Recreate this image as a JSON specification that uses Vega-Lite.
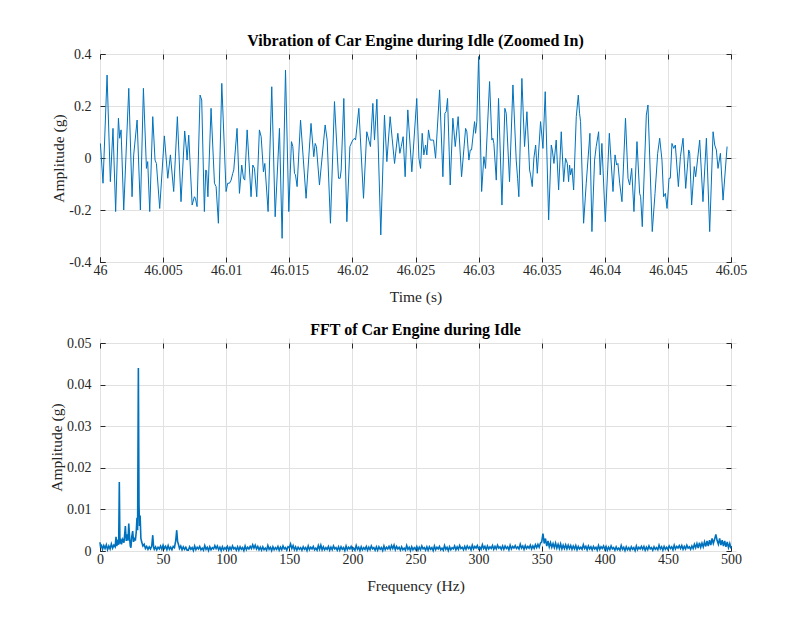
{
  "$schema": "https://vega.github.io/schema/vega-lite/v6.json",
  "background": "white",
  "padding": {"left": 49, "top": 32, "right": 10, "bottom": 10},
  "bounds": "flush",
  "spacing": 81,
  "config": {
    "font": "Liberation Serif",
    "view": {"stroke": "#262626", "strokeWidth": 1},
    "axis": {
      "labelFont": "Liberation Serif",
      "labelFontSize": 14,
      "labelColor": "#262626",
      "titleFont": "Liberation Serif",
      "titleFontSize": 15.5,
      "titleFontWeight": "normal",
      "titleColor": "#262626",
      "gridColor": "#e1e1e1",
      "gridWidth": 1,
      "domain": false,
      "tickColor": "#262626",
      "tickSize": 5,
      "offset": -5,
      "labelFlush": false,
      "labelOverlap": false
    },
    "axisX": {"labelPadding": 1, "titlePadding": 12},
    "axisY": {"labelPadding": 9, "titlePadding": 2},
    "title": {"font": "Liberation Serif", "fontSize": 16, "fontWeight": "bold", "color": "#000000", "offset": -2, "anchor": "middle"}
  },
  "vconcat": [
    {
      "width": 631,
      "height": 208,
      "title": "Vibration of Car Engine during Idle (Zoomed In)",
      "data": {"values": [
        {"t":46.00003,"v":0.056},{"t":46.00024,"v":-0.097},{"t":46.00056,"v":0.319},{"t":46.00082,"v":-0.091},{"t":46.00103,"v":0.114},
        {"t":46.00124,"v":-0.206},{"t":46.00146,"v":0.153},{"t":46.00156,"v":0.076},{"t":46.00167,"v":0.108},{"t":46.00188,"v":-0.2},
        {"t":46.00228,"v":0.268},{"t":46.00254,"v":-0.149},{"t":46.00267,"v":0.012},{"t":46.00294,"v":0.146},{"t":46.0032,"v":-0.2},
        {"t":46.00344,"v":0.268},{"t":46.00368,"v":-0.04},{"t":46.00378,"v":-0.014},{"t":46.00394,"v":-0.206},{"t":46.00418,"v":0.159},
        {"t":46.00436,"v":-0.008},{"t":46.00447,"v":-0.021},{"t":46.00473,"v":-0.194},{"t":46.0051,"v":0.085},{"t":46.00537,"v":-0.078},
        {"t":46.00558,"v":0.012},{"t":46.00584,"v":-0.129},{"t":46.00613,"v":0.159},{"t":46.00642,"v":-0.168},{"t":46.00671,"v":0.104},
        {"t":46.00685,"v":0.031},{"t":46.0069,"v":-0.008},{"t":46.00703,"v":0.088},{"t":46.0073,"v":-0.181},{"t":46.00748,"v":-0.149},
        {"t":46.00756,"v":-0.155},{"t":46.00769,"v":-0.187},{"t":46.00793,"v":0.242},{"t":46.00806,"v":0.223},{"t":46.00827,"v":-0.206},
        {"t":46.00838,"v":-0.046},{"t":46.00845,"v":-0.05},{"t":46.00855,"v":-0.149},{"t":46.0088,"v":0.191},{"t":46.00907,"v":-0.097},
        {"t":46.0092,"v":-0.11},{"t":46.00938,"v":-0.251},{"t":46.00965,"v":0.287},{"t":46.00999,"v":-0.129},{"t":46.01012,"v":-0.097},
        {"t":46.01026,"v":-0.097},{"t":46.01039,"v":-0.085},{"t":46.01052,"v":-0.059},{"t":46.0106,"v":-0.046},{"t":46.01086,"v":0.114},
        {"t":46.01105,"v":-0.136},{"t":46.01123,"v":-0.027},{"t":46.01137,"v":-0.078},{"t":46.01147,"v":-0.085},{"t":46.01166,"v":0.108},
        {"t":46.01197,"v":-0.149},{"t":46.01211,"v":-0.027},{"t":46.01224,"v":-0.04},{"t":46.01242,"v":-0.149},{"t":46.01263,"v":0.108},
        {"t":46.01277,"v":0.082},{"t":46.01295,"v":-0.053},{"t":46.01306,"v":-0.021},{"t":46.01332,"v":-0.206},{"t":46.01361,"v":0.274},
        {"t":46.01388,"v":-0.226},{"t":46.01422,"v":0.114},{"t":46.01443,"v":-0.309},{"t":46.0147,"v":0.338},{"t":46.01496,"v":-0.206},
        {"t":46.01517,"v":0.063},{"t":46.01528,"v":0.044},{"t":46.01541,"v":-0.059},{"t":46.01549,"v":-0.065},{"t":46.01562,"v":-0.11},
        {"t":46.01589,"v":0.146},{"t":46.01633,"v":-0.155},{"t":46.01672,"v":0.133},{"t":46.01694,"v":0.005},{"t":46.01705,"v":0.056},
        {"t":46.01715,"v":0.044},{"t":46.01739,"v":-0.104},{"t":46.01784,"v":0.127},{"t":46.018,"v":0.069},{"t":46.01826,"v":-0.251},
        {"t":46.01858,"v":0.217},{"t":46.0189,"v":-0.078},{"t":46.01903,"v":-0.078},{"t":46.01911,"v":-0.046},{"t":46.01932,"v":0.229},
        {"t":46.01956,"v":-0.245},{"t":46.0198,"v":0.044},{"t":46.02003,"v":0.069},{"t":46.02017,"v":0.076},{"t":46.02025,"v":0.069},
        {"t":46.02051,"v":0.191},{"t":46.02088,"v":-0.155},{"t":46.02114,"v":0.101},{"t":46.0213,"v":0.069},{"t":46.02143,"v":0.044},
        {"t":46.02162,"v":0.21},{"t":46.02175,"v":0.069},{"t":46.02194,"v":0.226},{"t":46.02225,"v":-0.296},{"t":46.02254,"v":0.165},
        {"t":46.02273,"v":-0.014},{"t":46.02299,"v":0.159},{"t":46.02315,"v":0.076},{"t":46.02334,"v":-0.021},{"t":46.0236,"v":0.095},
        {"t":46.02376,"v":0.018},{"t":46.02387,"v":0.044},{"t":46.02402,"v":0.082},{"t":46.02418,"v":-0.072},{"t":46.02439,"v":0.185},
        {"t":46.02471,"v":-0.053},{"t":46.0251,"v":0.229},{"t":46.02527,"v":-0.001},{"t":46.0254,"v":-0.04},{"t":46.02553,"v":0.095},
        {"t":46.02566,"v":0.012},{"t":46.0258,"v":0.05},{"t":46.0259,"v":0.012},{"t":46.02603,"v":0.108},{"t":46.02616,"v":0.069},
        {"t":46.02632,"v":0.069},{"t":46.02643,"v":0.069},{"t":46.02659,"v":-0.001},{"t":46.02691,"v":0.262},{"t":46.02717,"v":-0.072},
        {"t":46.02733,"v":0.172},{"t":46.02743,"v":0.178},{"t":46.02754,"v":0.229},{"t":46.02775,"v":-0.104},{"t":46.02796,"v":0.153},
        {"t":46.02815,"v":0.044},{"t":46.02838,"v":0.159},{"t":46.02865,"v":-0.072},{"t":46.02897,"v":0.114},{"t":46.02907,"v":0.101},
        {"t":46.02923,"v":-0.008},{"t":46.02934,"v":0.031},{"t":46.02944,"v":0.031},{"t":46.02968,"v":0.14},{"t":46.02976,"v":0.095},
        {"t":46.02986,"v":0.14},{"t":46.03,"v":0.39},{"t":46.03024,"v":-0.129},{"t":46.03042,"v":0.005},{"t":46.03055,"v":-0.04},
        {"t":46.03087,"v":0.294},{"t":46.03105,"v":0.069},{"t":46.03113,"v":0.076},{"t":46.03121,"v":0.056},{"t":46.0314,"v":-0.085},
        {"t":46.03158,"v":0.229},{"t":46.03185,"v":-0.181},{"t":46.03208,"v":0.191},{"t":46.03219,"v":0.172},{"t":46.03245,"v":-0.091},
        {"t":46.03272,"v":0.281},{"t":46.03298,"v":-0.008},{"t":46.03309,"v":-0.078},{"t":46.03319,"v":-0.149},{"t":46.03343,"v":0.306},
        {"t":46.03364,"v":0.044},{"t":46.03383,"v":0.178},{"t":46.03404,"v":-0.046},{"t":46.03412,"v":-0.065},{"t":46.03425,"v":-0.11},
        {"t":46.03438,"v":-0.001},{"t":46.03452,"v":0.05},{"t":46.03465,"v":-0.059},{"t":46.03491,"v":0.14},{"t":46.0351,"v":0.037},
        {"t":46.03528,"v":0.255},{"t":46.03555,"v":-0.238},{"t":46.03576,"v":0.05},{"t":46.03584,"v":0.031},{"t":46.03597,"v":-0.021},
        {"t":46.03615,"v":0.069},{"t":46.03634,"v":-0.123},{"t":46.03655,"v":0.101},{"t":46.03674,"v":-0.091},{"t":46.03689,"v":-0.001},
        {"t":46.03703,"v":-0.021},{"t":46.03713,"v":-0.091},{"t":46.03721,"v":-0.027},{"t":46.03729,"v":-0.065},{"t":46.0374,"v":-0.04},
        {"t":46.03753,"v":-0.123},{"t":46.03774,"v":0.159},{"t":46.0379,"v":0.242},{"t":46.038,"v":0.172},{"t":46.03808,"v":0.14},
        {"t":46.03832,"v":-0.251},{"t":46.03853,"v":-0.097},{"t":46.03882,"v":0.095},{"t":46.03898,"v":-0.283},{"t":46.03919,"v":-0.008},
        {"t":46.03932,"v":0.044},{"t":46.03951,"v":0.101},{"t":46.03964,"v":-0.065},{"t":46.03977,"v":0.056},{"t":46.04004,"v":-0.245},
        {"t":46.04036,"v":0.095},{"t":46.04065,"v":-0.129},{"t":46.04081,"v":0.012},{"t":46.04094,"v":-0.027},{"t":46.04104,"v":-0.021},
        {"t":46.04118,"v":-0.097},{"t":46.04136,"v":-0.168},{"t":46.04164,"v":0.153},{"t":46.04184,"v":-0.078},{"t":46.04197,"v":-0.104},
        {"t":46.04213,"v":-0.04},{"t":46.04231,"v":-0.206},{"t":46.04255,"v":0.063},{"t":46.04276,"v":-0.136},{"t":46.04284,"v":-0.149},
        {"t":46.04297,"v":-0.264},{"t":46.04329,"v":0.165},{"t":46.04342,"v":0.204},{"t":46.04376,"v":-0.283},{"t":46.04398,"v":-0.136},
        {"t":46.04419,"v":0.018},{"t":46.04435,"v":0.076},{"t":46.04453,"v":-0.008},{"t":46.04466,"v":-0.149},{"t":46.0448,"v":-0.136},
        {"t":46.04493,"v":-0.194},{"t":46.04509,"v":-0.078},{"t":46.04519,"v":-0.078},{"t":46.04532,"v":0.056},{"t":46.04546,"v":0.037},
        {"t":46.04559,"v":0.05},{"t":46.04583,"v":-0.11},{"t":46.04599,"v":0.005},{"t":46.0462,"v":0.076},{"t":46.04641,"v":-0.117},
        {"t":46.04665,"v":0.031},{"t":46.04673,"v":0.018},{"t":46.04688,"v":-0.181},{"t":46.04709,"v":-0.033},{"t":46.0472,"v":-0.072},
        {"t":46.04752,"v":0.069},{"t":46.04778,"v":-0.168},{"t":46.04805,"v":0.076},{"t":46.04831,"v":-0.283},{"t":46.04858,"v":0.101},
        {"t":46.04871,"v":0.05},{"t":46.04884,"v":0.031},{"t":46.04897,"v":-0.04},{"t":46.04916,"v":0.018},{"t":46.04937,"v":-0.162},
        {"t":46.04969,"v":0.044}
      ]},
      "layer": [
        {
          "mark": {"type": "line", "color": "#0072BD", "strokeWidth": 1},
          "encoding": {
            "x": {"field": "t", "type": "quantitative",
                  "scale": {"domain": [46, 46.05], "nice": false, "zero": false},
                  "axis": {"values": [46, 46.005, 46.01, 46.015, 46.02, 46.025, 46.03, 46.035, 46.04, 46.045, 46.05], "format": ".6~g", "title": "Time (s)"}},
            "y": {"field": "v", "type": "quantitative",
                  "scale": {"domain": [-0.4, 0.4], "nice": false},
                  "axis": {"values": [-0.4, -0.2, 0, 0.2, 0.4], "labelExpr": "datum.value < 0 ? '-' + format(-datum.value, '.1~f') : format(datum.value, '.1~f')", "title": "Amplitude (g)"}}
          }
        },
        {
          "mark": {"type": "line", "strokeOpacity": 0},
          "encoding": {
            "x": {"field": "t", "type": "quantitative",
                  "axis": {"orient": "top", "values": [46, 46.005, 46.01, 46.015, 46.02, 46.025, 46.03, 46.035, 46.04, 46.045, 46.05], "labels": false, "grid": false, "title": null}},
            "y": {"field": "v", "type": "quantitative",
                  "axis": {"orient": "right", "values": [-0.4, -0.2, 0, 0.2, 0.4], "labels": false, "grid": false, "title": null}}
          }
        }
      ],
      "resolve": {"axis": {"x": "independent", "y": "independent"}}
    },
    {
      "width": 631,
      "height": 208,
      "title": "FFT of Car Engine during Idle",
      "data": {"values": [
        {"f":0,"a":0.0021},{"f":0.5,"a":0.0008},{"f":1,"a":0.0016},{"f":2,"a":0.0004},{"f":3,"a":0.0013},{"f":4,"a":0.0006},{"f":5,"a":0.0015},{"f":6,"a":0.0003},{"f":7,"a":0.0012},{"f":8,"a":0.0005},
        {"f":9,"a":0.0017},{"f":10,"a":0.0007},{"f":11,"a":0.0014},{"f":12,"a":0.001},{"f":12.7,"a":0.0034},{"f":13.3,"a":0.0012},{"f":14,"a":0.0022},{"f":14.8,"a":0.0015},{"f":15.3,"a":0.0166},{"f":15.8,"a":0.0018},
        {"f":16.5,"a":0.003},{"f":17,"a":0.0016},{"f":18,"a":0.0028},{"f":19,"a":0.002},{"f":20.1,"a":0.006},{"f":20.8,"a":0.0024},{"f":21.5,"a":0.004},{"f":22.2,"a":0.0025},{"f":22.8,"a":0.0066},{"f":23.5,"a":0.003},
        {"f":24,"a":0.0012},{"f":24.5,"a":0.0008},{"f":25.2,"a":0.0035},{"f":25.9,"a":0.0048},{"f":26.6,"a":0.0022},{"f":27.3,"a":0.0032},{"f":28,"a":0.0025},{"f":28.7,"a":0.0045},{"f":29.3,"a":0.008},{"f":29.8,"a":0.005},
        {"f":30.4,"a":0.044},{"f":30.9,"a":0.0112},{"f":31.3,"a":0.006},{"f":31.8,"a":0.0085},{"f":32.4,"a":0.003},{"f":33,"a":0.0022},{"f":34,"a":0.0012},{"f":35,"a":0.0016},{"f":36,"a":0.0006},{"f":37,"a":0.0011},
        {"f":38,"a":0.0004},{"f":39,"a":0.001},{"f":40,"a":0.0005},{"f":41,"a":0.0012},{"f":41.8,"a":0.0038},{"f":42.5,"a":0.0008},{"f":43,"a":0.0004},{"f":44,"a":0.001},{"f":45,"a":0.0003},{"f":46,"a":0.0009},
        {"f":47,"a":0.0005},{"f":48,"a":0.0012},{"f":49,"a":0.0004},{"f":50,"a":0.0014},{"f":51,"a":0.0006},{"f":52,"a":0.0011},{"f":53,"a":0.0003},{"f":54,"a":0.0013},{"f":55,"a":0.0004},{"f":56,"a":0.0009},
        {"f":57,"a":0.0003},{"f":58,"a":0.0011},{"f":59,"a":0.0008},{"f":60,"a":0.0025},{"f":60.8,"a":0.005},{"f":61.5,"a":0.0022},{"f":62,"a":0.0018},{"f":63,"a":0.0006},{"f":64,"a":0.0012},{"f":65,"a":0.0003},
        {"f":66,"a":0.001},{"f":67,"a":0.0004},{"f":68,"a":0.0009},{"f":69,"a":0.0002},
        {"f":70,"a":0.0002},{"f":71,"a":0.001},{"f":72,"a":0.0004},{"f":73,"a":0.0008},{"f":74,"a":0.0001},{"f":75,"a":0.0012},{"f":76,"a":0.0003},{"f":77,"a":0.0009},{"f":78,"a":0.0005},{"f":79,"a":0.0011},
        {"f":80,"a":0.0003},{"f":81,"a":0.0007},{"f":82,"a":0.0002},{"f":83,"a":0.0013},{"f":84,"a":0.0004},{"f":85,"a":0.0009},{"f":86,"a":0.0001},{"f":87,"a":0.001},{"f":88,"a":0.0003},{"f":89,"a":0.0008},
        {"f":90,"a":0.0005},{"f":91,"a":0.0013},{"f":92,"a":0.0006},{"f":93,"a":0.0012},{"f":94,"a":0.0003},{"f":95,"a":0.0009},{"f":96,"a":0.0001},{"f":97,"a":0.001},{"f":98,"a":0.0003},{"f":99,"a":0.0008},
        {"f":100,"a":0.0004},{"f":101,"a":0.0011},{"f":102,"a":0.0002},{"f":103,"a":0.0009},{"f":104,"a":0.0003},{"f":105,"a":0.0012},{"f":106,"a":0.0005},{"f":107,"a":0.0008},{"f":108,"a":0.0002},{"f":109,"a":0.001},
        {"f":110,"a":0.0002},{"f":111,"a":0.001},{"f":112,"a":0.0004},{"f":113,"a":0.0008},{"f":114,"a":0.0001},{"f":115,"a":0.0012},{"f":116,"a":0.0003},{"f":117,"a":0.0009},{"f":118,"a":0.0005},{"f":119,"a":0.0011},
        {"f":120,"a":0.0006},{"f":121,"a":0.0015},{"f":122,"a":0.0007},{"f":123,"a":0.0014},{"f":124,"a":0.0005},{"f":125,"a":0.0011},{"f":126,"a":0.0003},{"f":127,"a":0.0009},{"f":128,"a":0.0002},{"f":129,"a":0.001},
        {"f":130,"a":0.0003},{"f":131,"a":0.0007},{"f":132,"a":0.0002},{"f":133,"a":0.0013},{"f":134,"a":0.0004},{"f":135,"a":0.0009},{"f":136,"a":0.0001},{"f":137,"a":0.001},{"f":138,"a":0.0003},{"f":139,"a":0.0008},
        {"f":140,"a":0.0004},{"f":141,"a":0.0011},{"f":142,"a":0.0002},{"f":143,"a":0.0009},{"f":144,"a":0.0003},{"f":145,"a":0.0012},{"f":146,"a":0.0005},{"f":147,"a":0.0008},{"f":148,"a":0.0002},{"f":149,"a":0.001},
        {"f":150,"a":0.0008},{"f":151,"a":0.0017},{"f":152,"a":0.0006},{"f":153,"a":0.0013},{"f":154,"a":0.0003},{"f":155,"a":0.001},{"f":156,"a":0.0002},{"f":157,"a":0.0009},{"f":158,"a":0.0004},{"f":159,"a":0.0008},
        {"f":160,"a":0.0002},{"f":161,"a":0.001},{"f":162,"a":0.0004},{"f":163,"a":0.0008},{"f":164,"a":0.0001},{"f":165,"a":0.0012},{"f":166,"a":0.0003},{"f":167,"a":0.0009},{"f":168,"a":0.0005},{"f":169,"a":0.0011},
        {"f":170,"a":0.0003},{"f":171,"a":0.0007},{"f":172,"a":0.0002},{"f":173,"a":0.0013},{"f":174,"a":0.0004},{"f":175,"a":0.0014},{"f":176,"a":0.0003},{"f":177,"a":0.001},{"f":178,"a":0.0003},{"f":179,"a":0.0008},
        {"f":180,"a":0.0004},{"f":181,"a":0.0011},{"f":182,"a":0.0002},{"f":183,"a":0.0009},{"f":184,"a":0.0003},{"f":185,"a":0.0012},{"f":186,"a":0.0005},{"f":187,"a":0.0008},{"f":188,"a":0.0002},{"f":189,"a":0.001},
        {"f":190,"a":0.0002},{"f":191,"a":0.001},{"f":192,"a":0.0004},{"f":193,"a":0.0008},{"f":194,"a":0.0001},{"f":195,"a":0.0012},{"f":196,"a":0.0003},{"f":197,"a":0.0009},{"f":198,"a":0.0005},{"f":199,"a":0.0011},
        {"f":200,"a":0.0003},{"f":201,"a":0.0007},{"f":202,"a":0.0002},{"f":203,"a":0.0013},{"f":204,"a":0.0004},{"f":205,"a":0.0009},{"f":206,"a":0.0001},{"f":207,"a":0.001},{"f":208,"a":0.0003},{"f":209,"a":0.0008},
        {"f":210,"a":0.0004},{"f":211,"a":0.0011},{"f":212,"a":0.0002},{"f":213,"a":0.0009},{"f":214,"a":0.0003},{"f":215,"a":0.0012},{"f":216,"a":0.0005},{"f":217,"a":0.0008},{"f":218,"a":0.0002},{"f":219,"a":0.001},
        {"f":220,"a":0.0002},{"f":221,"a":0.001},{"f":222,"a":0.0004},{"f":223,"a":0.0008},{"f":224,"a":0.0001},{"f":225,"a":0.0012},{"f":226,"a":0.0003},{"f":227,"a":0.0009},{"f":228,"a":0.0005},{"f":229,"a":0.0011},
        {"f":230,"a":0.0004},{"f":231,"a":0.0013},{"f":232,"a":0.0006},{"f":233,"a":0.0014},{"f":234,"a":0.0003},{"f":235,"a":0.0011},{"f":236,"a":0.0005},{"f":237,"a":0.0009},{"f":238,"a":0.0002},{"f":239,"a":0.001},
        {"f":240,"a":0.0003},{"f":241,"a":0.0007},{"f":242,"a":0.0002},{"f":243,"a":0.0013},{"f":244,"a":0.0004},{"f":245,"a":0.0009},{"f":246,"a":0.0001},{"f":247,"a":0.001},{"f":248,"a":0.0003},{"f":249,"a":0.0008},
        {"f":250,"a":0.0004},{"f":251,"a":0.0011},{"f":252,"a":0.0002},{"f":253,"a":0.0009},{"f":254,"a":0.0003},{"f":255,"a":0.0012},{"f":256,"a":0.0005},{"f":257,"a":0.0008},{"f":258,"a":0.0002},{"f":259,"a":0.001},
        {"f":260,"a":0.0002},{"f":261,"a":0.001},{"f":262,"a":0.0004},{"f":263,"a":0.0008},{"f":264,"a":0.0001},{"f":265,"a":0.0012},{"f":266,"a":0.0003},{"f":267,"a":0.0009},{"f":268,"a":0.0005},{"f":269,"a":0.0011},
        {"f":270,"a":0.0003},{"f":271,"a":0.0007},{"f":272,"a":0.0002},{"f":273,"a":0.0013},{"f":274,"a":0.0004},{"f":275,"a":0.0009},{"f":276,"a":0.0001},{"f":277,"a":0.001},{"f":278,"a":0.0003},{"f":279,"a":0.0008},
        {"f":280,"a":0.0005},{"f":281,"a":0.0012},{"f":282,"a":0.0003},{"f":283,"a":0.001},{"f":284,"a":0.0004},{"f":285,"a":0.0013},{"f":286,"a":0.0006},{"f":287,"a":0.0009},{"f":288,"a":0.0003},{"f":289,"a":0.0011},
        {"f":290,"a":0.0004},{"f":291,"a":0.0012},{"f":292,"a":0.0006},{"f":293,"a":0.001},{"f":294,"a":0.0003},{"f":295,"a":0.0014},{"f":296,"a":0.0005},{"f":297,"a":0.0011},{"f":298,"a":0.0007},{"f":299,"a":0.0013},
        {"f":300,"a":0.0005},{"f":301,"a":0.0009},{"f":302,"a":0.0004},{"f":303,"a":0.0015},{"f":304,"a":0.0006},{"f":305,"a":0.0011},{"f":306,"a":0.0003},{"f":307,"a":0.0012},{"f":308,"a":0.0005},{"f":309,"a":0.001},
        {"f":310,"a":0.0006},{"f":311,"a":0.0013},{"f":312,"a":0.0004},{"f":313,"a":0.0011},{"f":314,"a":0.0005},{"f":315,"a":0.0014},{"f":316,"a":0.0007},{"f":317,"a":0.001},{"f":318,"a":0.0004},{"f":319,"a":0.0012},
        {"f":320,"a":0.0004},{"f":321,"a":0.0012},{"f":322,"a":0.0006},{"f":323,"a":0.001},{"f":324,"a":0.0003},{"f":325,"a":0.0014},{"f":326,"a":0.0005},{"f":327,"a":0.0011},{"f":328,"a":0.0007},{"f":329,"a":0.0013},
        {"f":330,"a":0.0006},{"f":331,"a":0.001},{"f":332,"a":0.0005},{"f":333,"a":0.0016},{"f":334,"a":0.0007},{"f":335,"a":0.0012},{"f":336,"a":0.0004},{"f":337,"a":0.0013},{"f":338,"a":0.0006},{"f":339,"a":0.0011},
        {"f":340,"a":0.0007},{"f":341,"a":0.0014},{"f":342,"a":0.0005},{"f":343,"a":0.0012},{"f":344,"a":0.0006},{"f":345,"a":0.0015},{"f":346,"a":0.0008},{"f":347,"a":0.0016},{"f":348,"a":0.0009},{"f":349,"a":0.0019},
        {"f":350,"a":0.0022},{"f":351,"a":0.0042},{"f":352,"a":0.0018},{"f":353,"a":0.003},{"f":354,"a":0.0012},{"f":355,"a":0.0024},{"f":356,"a":0.001},{"f":357,"a":0.002},{"f":358,"a":0.0009},{"f":359,"a":0.0018},
        {"f":360,"a":0.0008},{"f":361,"a":0.0019},{"f":362,"a":0.0007},{"f":363,"a":0.0016},{"f":364,"a":0.0006},{"f":365,"a":0.0017},{"f":366,"a":0.0005},{"f":367,"a":0.0014},{"f":368,"a":0.0006},{"f":369,"a":0.0015},
        {"f":370,"a":0.0005},{"f":371,"a":0.0014},{"f":372,"a":0.0006},{"f":373,"a":0.0013},{"f":374,"a":0.0004},{"f":375,"a":0.0012},{"f":376,"a":0.0005},{"f":377,"a":0.0013},{"f":378,"a":0.0003},{"f":379,"a":0.0011},
        {"f":380,"a":0.0005},{"f":381,"a":0.0009},{"f":382,"a":0.0004},{"f":383,"a":0.0015},{"f":384,"a":0.0006},{"f":385,"a":0.0011},{"f":386,"a":0.0003},{"f":387,"a":0.0012},{"f":388,"a":0.0005},{"f":389,"a":0.001},
        {"f":390,"a":0.0003},{"f":391,"a":0.0011},{"f":392,"a":0.0005},{"f":393,"a":0.0009},{"f":394,"a":0.0002},{"f":395,"a":0.0013},{"f":396,"a":0.0004},{"f":397,"a":0.001},{"f":398,"a":0.0006},{"f":399,"a":0.0012},
        {"f":400,"a":0.0004},{"f":401,"a":0.0011},{"f":402,"a":0.0002},{"f":403,"a":0.0009},{"f":404,"a":0.0003},{"f":405,"a":0.0012},{"f":406,"a":0.0005},{"f":407,"a":0.0008},{"f":408,"a":0.0002},{"f":409,"a":0.001},
        {"f":410,"a":0.0003},{"f":411,"a":0.0007},{"f":412,"a":0.0002},{"f":413,"a":0.0013},{"f":414,"a":0.0004},{"f":415,"a":0.0009},{"f":416,"a":0.0001},{"f":417,"a":0.001},{"f":418,"a":0.0003},{"f":419,"a":0.0008},
        {"f":420,"a":0.0002},{"f":421,"a":0.001},{"f":422,"a":0.0004},{"f":423,"a":0.0008},{"f":424,"a":0.0001},{"f":425,"a":0.0012},{"f":426,"a":0.0003},{"f":427,"a":0.0009},{"f":428,"a":0.0005},{"f":429,"a":0.0011},
        {"f":430,"a":0.0004},{"f":431,"a":0.0011},{"f":432,"a":0.0002},{"f":433,"a":0.0009},{"f":434,"a":0.0003},{"f":435,"a":0.0012},{"f":436,"a":0.0005},{"f":437,"a":0.0008},{"f":438,"a":0.0002},{"f":439,"a":0.001},
        {"f":440,"a":0.0004},{"f":441,"a":0.0008},{"f":442,"a":0.0003},{"f":443,"a":0.0014},{"f":444,"a":0.0005},{"f":445,"a":0.001},{"f":446,"a":0.0002},{"f":447,"a":0.0011},{"f":448,"a":0.0004},{"f":449,"a":0.0009},
        {"f":450,"a":0.0004},{"f":451,"a":0.0012},{"f":452,"a":0.0006},{"f":453,"a":0.001},{"f":454,"a":0.0003},{"f":455,"a":0.0014},{"f":456,"a":0.0005},{"f":457,"a":0.0011},{"f":458,"a":0.0007},{"f":459,"a":0.0013},
        {"f":460,"a":0.0006},{"f":461,"a":0.0013},{"f":462,"a":0.0004},{"f":463,"a":0.0011},{"f":464,"a":0.0005},{"f":465,"a":0.0014},{"f":466,"a":0.0007},{"f":467,"a":0.001},{"f":468,"a":0.0004},{"f":469,"a":0.0012},
        {"f":470,"a":0.0006},{"f":471,"a":0.0016},{"f":472,"a":0.0008},{"f":473,"a":0.0018},{"f":474,"a":0.0007},{"f":475,"a":0.002},{"f":476,"a":0.0009},{"f":477,"a":0.0019},{"f":478,"a":0.001},{"f":479,"a":0.0022},
        {"f":480,"a":0.0011},{"f":481,"a":0.0024},{"f":482,"a":0.0012},{"f":483,"a":0.0026},{"f":484,"a":0.0014},{"f":485,"a":0.003},{"f":486,"a":0.0018},{"f":487,"a":0.0028},{"f":488,"a":0.004},{"f":489,"a":0.0025},
        {"f":490,"a":0.0016},{"f":491,"a":0.003},{"f":492,"a":0.0014},{"f":493,"a":0.0026},{"f":494,"a":0.0012},{"f":495,"a":0.0024},{"f":496,"a":0.001},{"f":497,"a":0.0022},{"f":498,"a":0.0008},{"f":499,"a":0.0018},
        {"f":500,"a":0.0006}
      ]},
      "layer": [
        {
          "mark": {"type": "line", "color": "#0072BD", "strokeWidth": 1.6},
          "encoding": {
            "x": {"field": "f", "type": "quantitative",
                  "scale": {"domain": [0, 500], "nice": false},
                  "axis": {"values": [0, 50, 100, 150, 200, 250, 300, 350, 400, 450, 500], "format": "d", "title": "Frequency (Hz)"}},
            "y": {"field": "a", "type": "quantitative",
                  "scale": {"domain": [0, 0.05], "nice": false},
                  "axis": {"values": [0, 0.01, 0.02, 0.03, 0.04, 0.05], "format": ".2~f", "title": "Amplitude (g)"}}
          }
        },
        {
          "mark": {"type": "line", "strokeOpacity": 0},
          "encoding": {
            "x": {"field": "f", "type": "quantitative",
                  "axis": {"orient": "top", "values": [0, 50, 100, 150, 200, 250, 300, 350, 400, 450, 500], "labels": false, "grid": false, "title": null}},
            "y": {"field": "a", "type": "quantitative",
                  "axis": {"orient": "right", "values": [0, 0.01, 0.02, 0.03, 0.04, 0.05], "labels": false, "grid": false, "title": null}}
          }
        }
      ],
      "resolve": {"axis": {"x": "independent", "y": "independent"}}
    }
  ]
}
